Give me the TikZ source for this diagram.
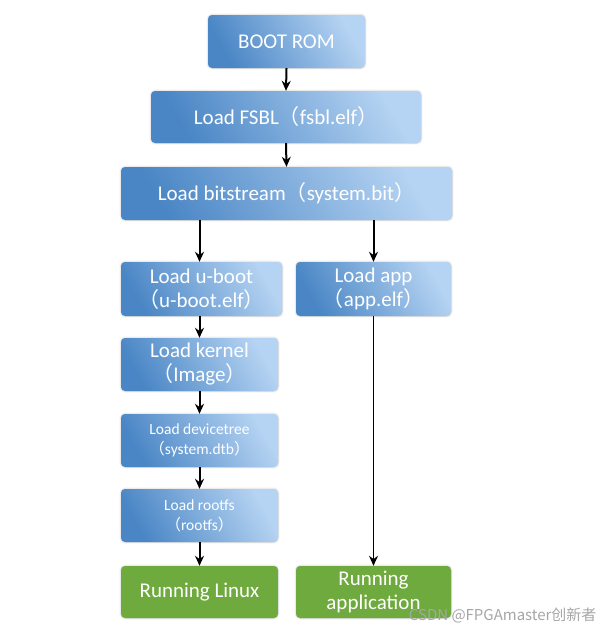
\documentclass[tikz,border=0pt]{standalone}
\usepackage{fontspec}
\setmainfont{Carlito}
\newfontfamily\cjk{Noto Sans CJK SC}
\usetikzlibrary{arrows.meta,shadows.blur}
\definecolor{bdark}{HTML}{4A86C5}
\definecolor{blight}{HTML}{B5D3F2}
\definecolor{gfill}{HTML}{6FAA3E}
\newcommand{\lpar}{{\cjk （}}
\newcommand{\rpar}{{\cjk ）}}
\tikzset{
 box/.style={draw=none,rounded corners=4pt,left color=bdark,right color=blight,shading angle=120,
   text=white,align=center,font=\fontsize{21}{24}\selectfont,blur shadow={shadow blur steps=5,shadow xshift=0pt,shadow yshift=0pt,shadow opacity=25}},
 sbox/.style={box,font=\fontsize{15.5}{20}\selectfont},
 gbox/.style={box,left color=gfill,right color=gfill},
 arr/.style={-{Stealth[length=10pt,width=9pt]},line width=2pt}
}
\begin{document}
\begin{tikzpicture}[x=1pt,y=-1pt]
\useasboundingbox (0,0) rectangle (615,635);
\node[box,minimum width=157,minimum height=53] (boot) at (286.5,41.5) {BOOT ROM};
\node[box,minimum width=270,minimum height=52] (fsbl) at (286,117) {Load FSBL\lpar fsbl.elf\rpar};
\node[box,minimum width=331,minimum height=53] (bit) at (286.5,193.5) {Load bitstream\lpar system.bit\rpar};
\node[box,minimum width=161,minimum height=54] (uboot) at (201.5,289) {Load u-boot\\\lpar u-boot.elf\rpar};
\node[box,minimum width=155,minimum height=54] (app) at (373.5,289) {Load app\\\lpar app.elf\rpar};
\node[box,minimum width=157,minimum height=53] (kern) at (199.5,364.5) {Load kernel\\\lpar Image\rpar};
\node[sbox,minimum width=157,minimum height=53] (dtb) at (199.5,440.5) {Load devicetree\\\lpar system.dtb\rpar};
\node[sbox,minimum width=157,minimum height=53] (rfs) at (199.5,515.5) {Load rootfs\\\lpar rootfs\rpar};
\node[gbox,minimum width=157,minimum height=52] (lin) at (199.5,592) {Running Linux};
\node[gbox,minimum width=155,minimum height=52,inner sep=0pt] (runapp) at (373.5,592) {Running\\application};
\draw[arr] (boot.south) -- (fsbl.north);
\draw[arr] (fsbl.south) -- (bit.north);
\draw[arr] (bit.south -| kern) -- (uboot.north -| kern);
\draw[arr] (bit.south -| runapp) -- (app.north -| runapp);
\draw[arr] (uboot.south -| kern) -- (kern.north);
\draw[arr] (kern.south) -- (dtb.north);
\draw[arr] (dtb.south) -- (rfs.north);
\draw[arr] (rfs.south) -- (lin.north);
\draw[arr,line width=1.5pt] (app.south) -- (runapp.north);
\node[anchor=east,text=gray!70,font=\cjk\fontsize{15}{18}\selectfont] (wm) at (600,615) {CSDN @FPGAmaster创新者};
\end{tikzpicture}
\end{document}
